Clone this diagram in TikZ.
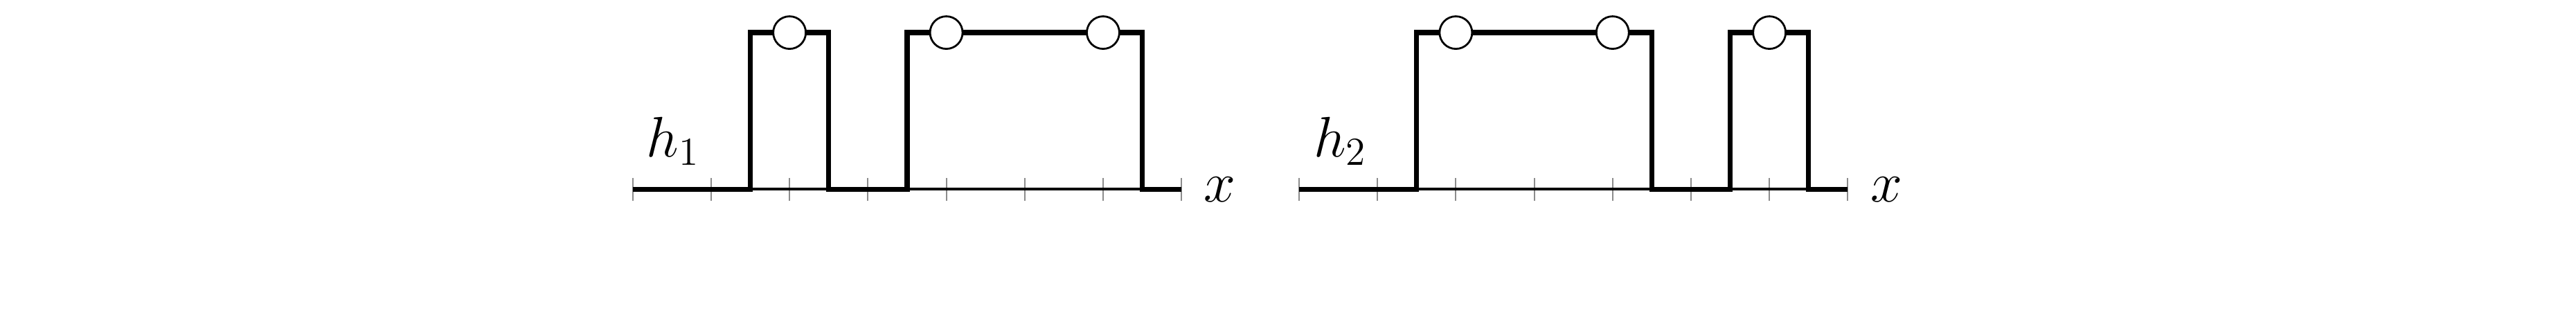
\documentclass[tikz,border=0pt]{standalone}
\begin{document}
\begin{tikzpicture}[x=1cm,y=1cm,
  thickline/.style={line width=1.8pt, line join=miter, line cap=butt},
  thinline/.style={line width=1pt},
  tickline/.style={line width=0.5pt, black!45},
  dot/.style={circle, draw, fill=white, line width=0.7pt, minimum size=0.415cm, inner sep=0pt},
  lbl/.style={font=\fontsize{21.5}{26}\selectfont}]
\useasboundingbox (-8.072,-1.683) rectangle (24.79,2.416);
% panel 1
\begin{scope}
  \foreach \i in {0,...,7} \draw[tickline] (\i,-0.15) -- (\i,0.15);
  \coordinate (a0) at (0,0);
  \coordinate (a7) at (7,0);
  \draw[thinline] (a0) -- (a7);
  \draw[thickline] (a0) -- (1.5,0) -- (1.5,2) -- (2.5,2) -- (2.5,0) -- (3.5,0) -- (3.5,2) -- (6.5,2) -- (6.5,0) -- (a7);
  \node[dot] (c11) at (2,2) {};
  \node[dot] (c12) at (4,2) {};
  \node[dot] (c13) at (6,2) {};
  \node[lbl, anchor=base west, inner sep=0pt] (h1) at (0.17,0.415) {$h_1$};
  \node[lbl, anchor=west, inner sep=8pt] (x1) at (a7) {$x$};
\end{scope}
% panel 2
\begin{scope}[xshift=8.5cm]
  \foreach \i in {0,...,7} \draw[tickline] (\i,-0.15) -- (\i,0.15);
  \coordinate (b0) at (0,0);
  \coordinate (b7) at (7,0);
  \draw[thinline] (b0) -- (b7);
  \draw[thickline] (b0) -- (1.5,0) -- (1.5,2) -- (4.5,2) -- (4.5,0) -- (5.5,0) -- (5.5,2) -- (6.5,2) -- (6.5,0) -- (b7);
  \node[dot] (c21) at (2,2) {};
  \node[dot] (c22) at (4,2) {};
  \node[dot] (c23) at (6,2) {};
  \node[lbl, anchor=base west, inner sep=0pt] (h2) at (0.18,0.415) {$h_2$};
  \node[lbl, anchor=west, inner sep=8pt] (x2) at (b7) {$x$};
\end{scope}
\end{tikzpicture}
\end{document}
